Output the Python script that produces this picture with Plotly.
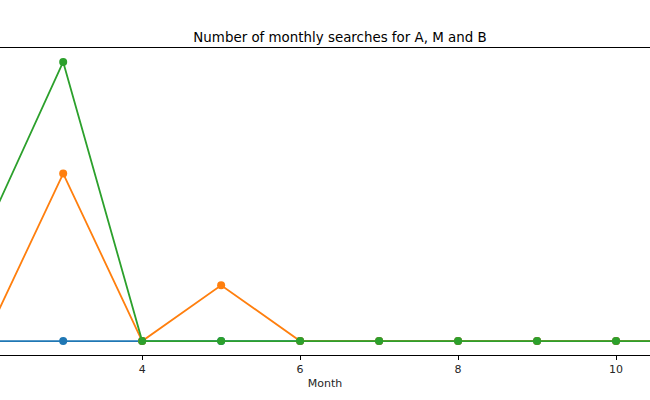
import plotly.graph_objects as go

months = [1, 2, 3, 4, 5, 6, 7, 8, 9, 10, 11, 12]
searches_a = [0, 0, 0, 0, 0, 0, 0, 0, 0, 0, 0, 0]
searches_m = [0, 0, 60, 0, 20, 0, 0, 0, 0, 0, 0, 0]
searches_b = [0, 38, 100, 0, 0, 0, 0, 0, 0, 0, 0, 0]
series_names = ["A", "M", "B"]
colors = ["#1f77b4", "#ff7f0e", "#2ca02c"]
tick_vals = [4, 6, 8, 10]

fig = go.Figure()
for name, vals, c in zip(series_names, [searches_a, searches_m, searches_b], colors):
    fig.add_trace(go.Scatter(x=months, y=vals, name=name, mode="lines+markers",
                             line=dict(color=c, width=1.8),
                             marker=dict(color=c, size=8)))

fig.update_layout(
    width=650, height=400,
    margin=dict(l=0, r=0, t=48, b=45),
    paper_bgcolor="white", plot_bgcolor="white",
    showlegend=False,
    font=dict(family="DejaVu Sans", color="#262626"),
    title=dict(text="Number of monthly searches for A, M and B",
               x=340/650, xanchor="center", xref="paper",
               y=1-37/400, yanchor="middle", yref="container",
               font=dict(size=13.4, color="black")),
)
fig.update_xaxes(range=[2.2, 10.43], tickvals=tick_vals, ticks="outside", ticklen=4,
                 tickcolor="black", showline=True, linecolor="black", linewidth=1,
                 mirror=True, showgrid=False, zeroline=False,
                 tickfont=dict(size=11, color="#262626"),
                 title=dict(text="Month", font=dict(size=11, color="#262626"), standoff=4))
fig.update_yaxes(range=[-5, 105], visible=False, showgrid=False, zeroline=False)

fig.write_html("out.html")
